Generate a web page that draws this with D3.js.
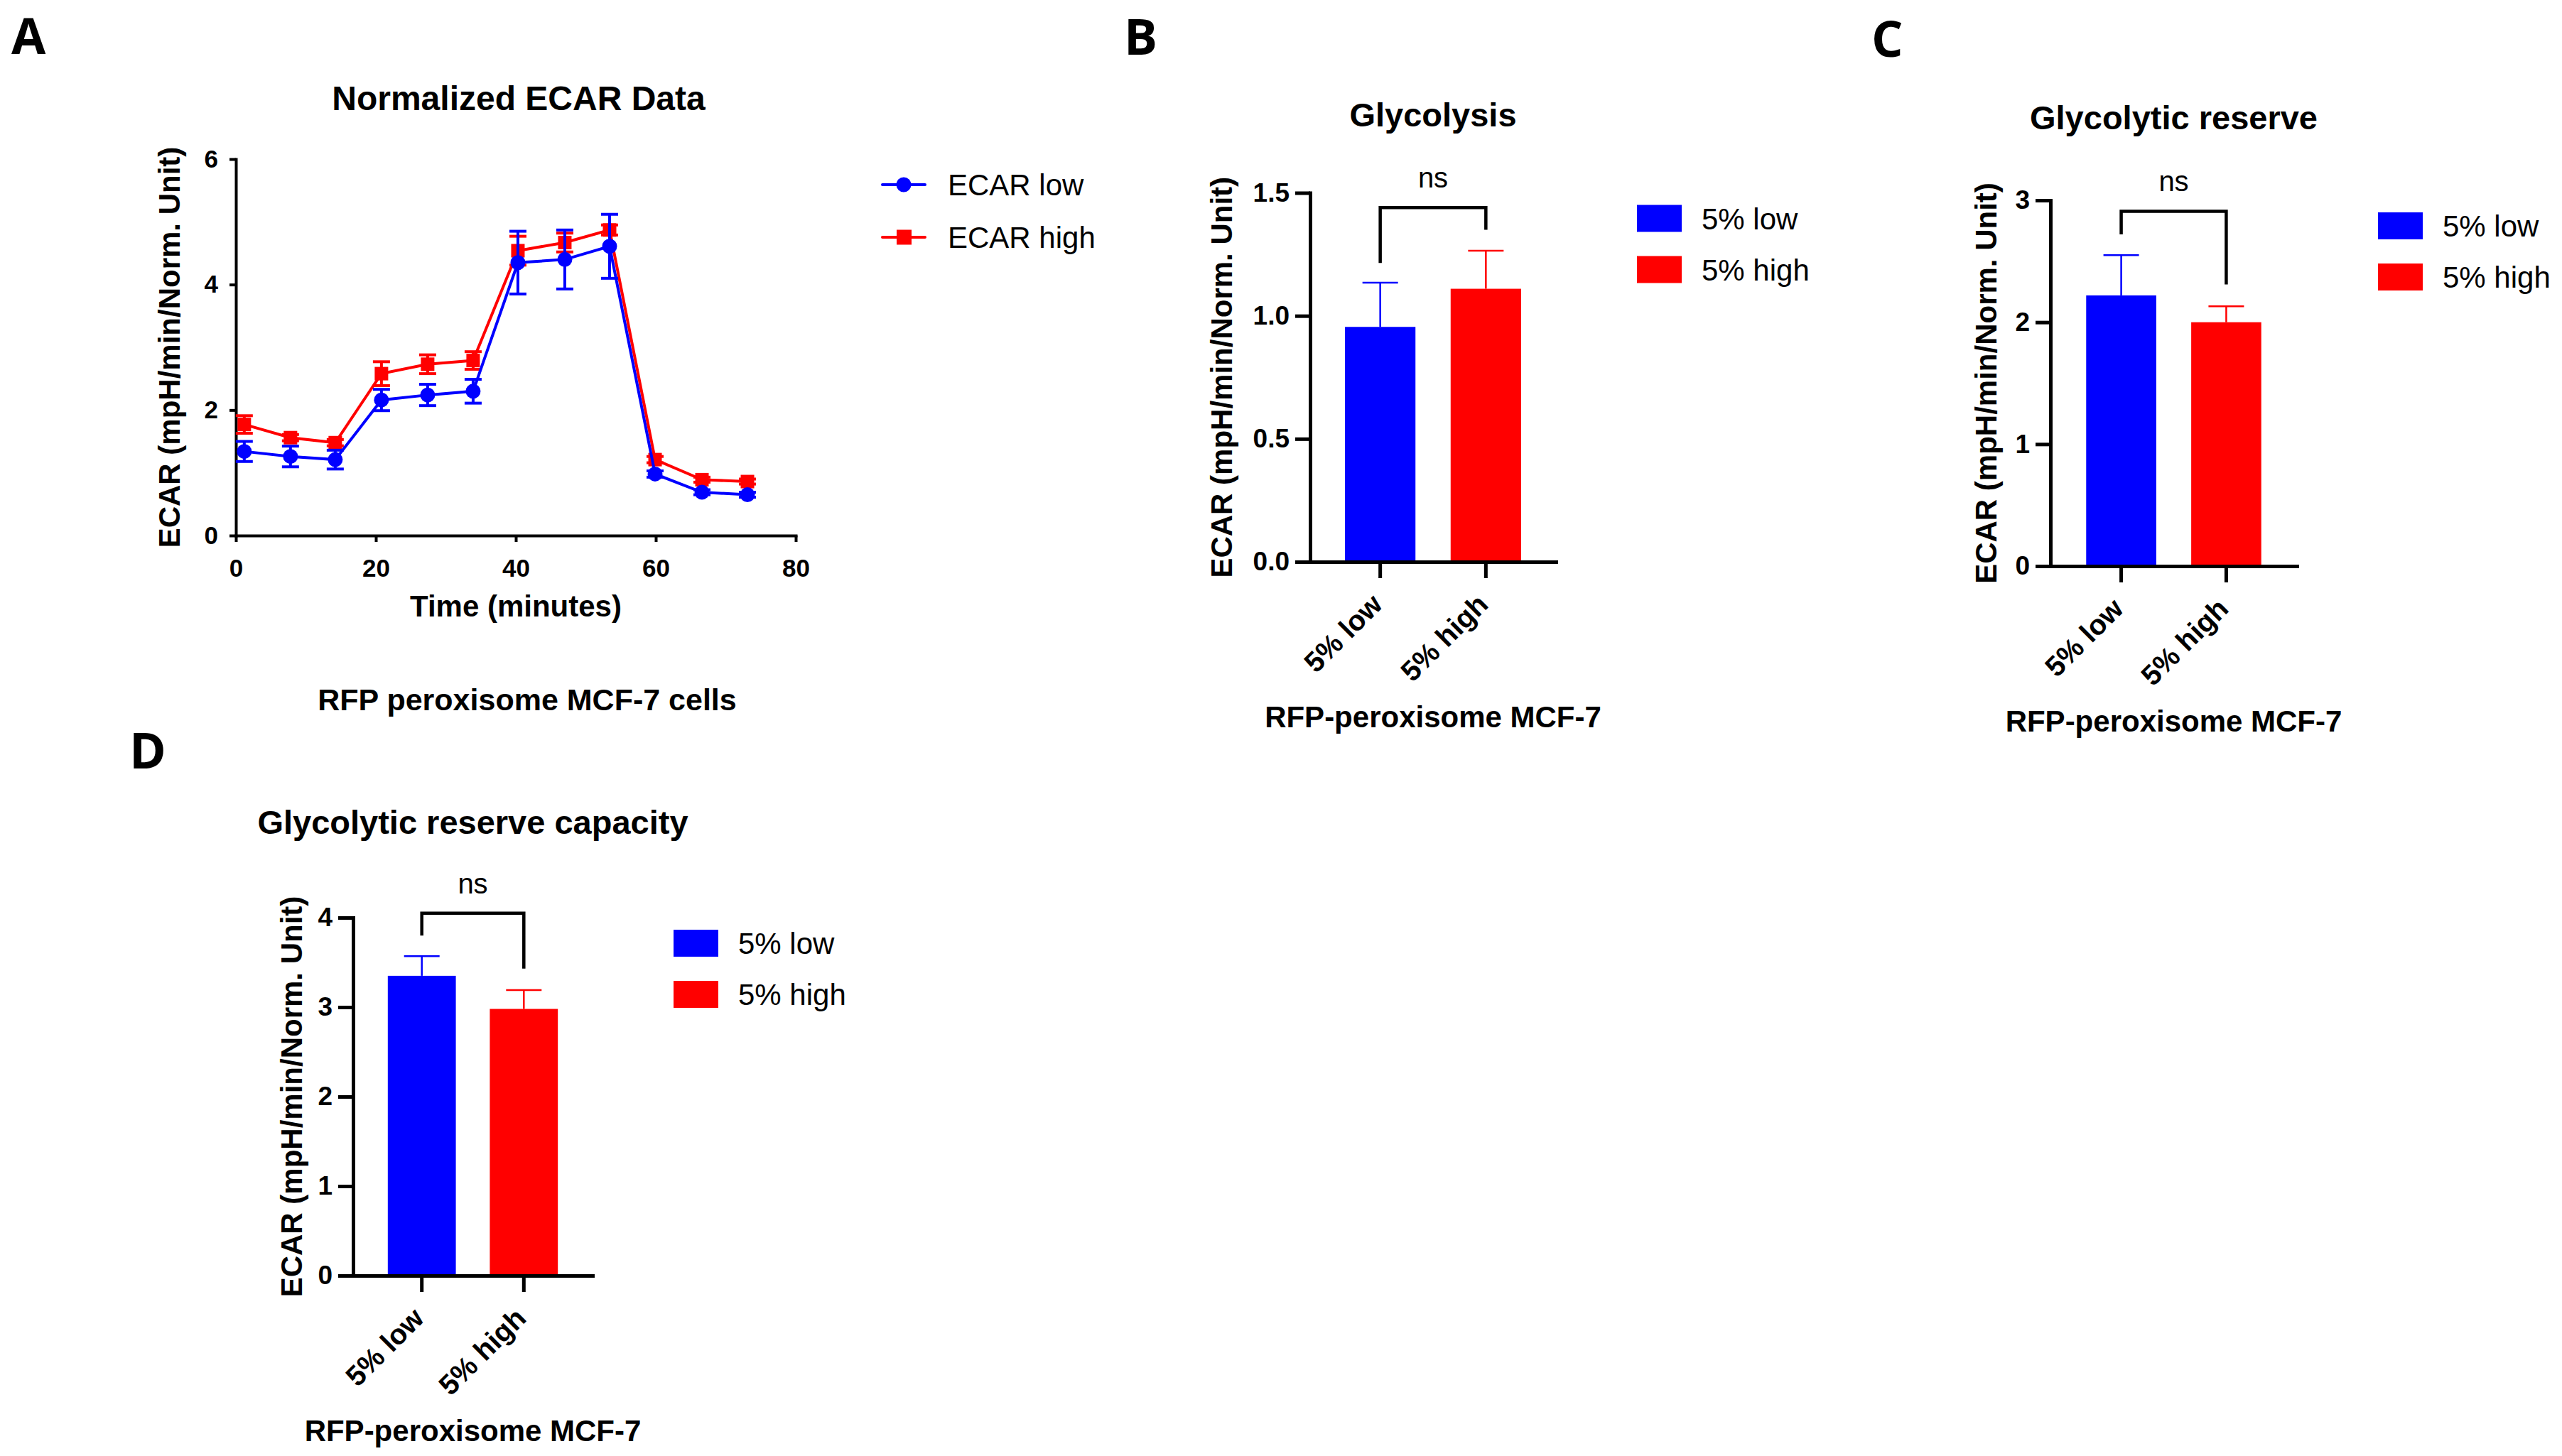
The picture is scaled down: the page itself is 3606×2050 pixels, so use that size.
<!DOCTYPE html>
<html>
<head>
<meta charset="utf-8">
<script src="https://d3js.org/d3.v7.min.js"></script>
<style>
body { margin: 0; background: #fff; }
svg { display: block; }
</style>
</head>
<body>
<script>
// ---- data ----
var timeMin = [1.2, 7.8, 14.2, 20.8, 27.4, 33.9, 40.3, 47.0, 53.4, 59.9, 66.6, 73.1];
var ecarLow = [1.34, 1.26, 1.21, 2.16, 2.24, 2.30, 4.35, 4.40, 4.61, 0.98, 0.69, 0.65];
var ecarLowSd = [0.16, 0.165, 0.15, 0.17, 0.17, 0.19, 0.50, 0.47, 0.51, 0.05, 0.04, 0.04];
var ecarHigh = [1.77, 1.56, 1.48, 2.58, 2.73, 2.79, 4.54, 4.67, 4.87, 1.21, 0.89, 0.86];
var ecarHighSd = [0.14, 0.05, 0.05, 0.19, 0.15, 0.14, 0.23, 0.15, 0.08, 0.05, 0.04, 0.04];
var seriesNames = ["ECAR low", "ECAR high"];

var groups = ["5% low", "5% high"];
var glycolysisMean = [0.955, 1.11];
var glycolysisSd = [0.18, 0.155];
var reserveMean = [2.22, 2.00];
var reserveSd = [0.33, 0.13];
var capacityMean = [3.35, 2.98];
var capacitySd = [0.22, 0.21];

// bracket levels (left leg end, bar, right leg end) in data units
var glycolysisBracket = [1.215, 1.44, 1.35];
var reserveBracket = [2.72, 2.91, 2.31];
var capacityBracket = [3.80, 4.05, 3.43];

var ticksA_x = [0, 20, 40, 60, 80];
var ticksA_y = [0, 2, 4, 6];

var blue = "#0000ff", red = "#ff0000";
var font = "'Liberation Sans', Arial, sans-serif";
var W = 3606, H = 2050;

var svg = d3.select("body").append("svg")
    .attr("width", W)
    .attr("height", H)
    .style("font-family", font);

// panel letters
var letters = [["A", 16, 76], ["B", 1582, 77], ["C", 2634, 80], ["D", 182, 1082]];
svg.selectAll("text.letter")
    .data(letters)
    .enter()
    .append("text")
    .attr("class", "letter")
    .attr("x", function(d) { return d[1]; })
    .attr("y", function(d) { return d[2]; })
    .attr("font-family", "'Open Sans', sans-serif")
    .attr("font-weight", "bold")
    .attr("font-size", 70)
    .text(function(d) { return d[0]; });

//////////// PANEL A /////////////
var ax = d3.scaleLinear().domain([0, 80]).range([332, 1120]);
var ay = d3.scaleLinear().domain([0, 6]).range([754, 224]);

var gA = svg.append("g");

function styleAxis(g, sw, fs) {
    g.attr("font-family", font).attr("font-size", fs).attr("font-weight", "bold");
    g.select(".domain").attr("stroke-width", sw).attr("stroke-linecap", "square");
    g.selectAll(".tick line").attr("stroke-width", sw);
    g.selectAll(".tick text").attr("fill", "#000");
}

gA.append("g")
    .attr("transform", "translate(0," + ay(0) + ")")
    .call(d3.axisBottom(ax).tickValues(ticksA_x).tickFormat(d3.format("d")).tickSize(9).tickPadding(24).tickSizeOuter(0))
    .call(styleAxis, 4, 35);

gA.append("g")
    .attr("transform", "translate(" + ax(0) + ",0)")
    .call(d3.axisLeft(ay).tickValues(ticksA_y).tickFormat(d3.format("d")).tickSize(9).tickPadding(16).tickSizeOuter(0))
    .call(styleAxis, 4, 35);

var seriesA = [
    { name: seriesNames[1], color: red, mean: ecarHigh, sd: ecarHighSd, shape: "square" },
    { name: seriesNames[0], color: blue, mean: ecarLow, sd: ecarLowSd, shape: "circle" }
];

var line = d3.line()
    .x(function(d) { return ax(d.t); })
    .y(function(d) { return ay(d.v); });

seriesA.forEach(function(s) {
    var pts = timeMin.map(function(t, i) { return { t: t, v: s.mean[i], e: s.sd[i] }; });
    var g = gA.append("g");
    g.append("path")
        .datum(pts)
        .attr("d", line)
        .attr("fill", "none")
        .attr("stroke", s.color)
        .attr("stroke-width", 4);

    var eb = g.selectAll("g.err")
        .data(pts)
        .enter()
        .append("g")
        .attr("stroke", s.color)
        .attr("stroke-width", 4);
    eb.append("line")
        .attr("x1", function(d) { return ax(d.t); })
        .attr("x2", function(d) { return ax(d.t); })
        .attr("y1", function(d) { return ay(d.v - d.e); })
        .attr("y2", function(d) { return ay(d.v + d.e); });
    [-1, 1].forEach(function(k) {
        eb.append("line")
            .attr("x1", function(d) { return ax(d.t) - 12; })
            .attr("x2", function(d) { return ax(d.t) + 12; })
            .attr("y1", function(d) { return ay(d.v + k * d.e); })
            .attr("y2", function(d) { return ay(d.v + k * d.e); });
    });

    if (s.shape === "circle") {
        g.selectAll("circle")
            .data(pts)
            .enter()
            .append("circle")
            .attr("cx", function(d) { return ax(d.t); })
            .attr("cy", function(d) { return ay(d.v); })
            .attr("r", 10.5)
            .attr("fill", s.color);
    } else {
        g.selectAll("rect")
            .data(pts)
            .enter()
            .append("rect")
            .attr("x", function(d) { return ax(d.t) - 9.5; })
            .attr("y", function(d) { return ay(d.v) - 9.5; })
            .attr("width", 19)
            .attr("height", 19)
            .attr("fill", s.color);
    }
});

// legend A
var legA = gA.selectAll("g.leg")
    .data([seriesA[1], seriesA[0]])
    .enter()
    .append("g")
    .attr("transform", function(d, i) { return "translate(1242," + (260 + i * 74) + ")"; });
legA.append("line")
    .attr("x1", 0).attr("x2", 60)
    .attr("stroke", function(d) { return d.color; })
    .attr("stroke-width", 4)
    .attr("stroke-linecap", "round");
legA.each(function(d) {
    var g = d3.select(this);
    if (d.shape === "circle") {
        g.append("circle").attr("cx", 30).attr("r", 10.5).attr("fill", d.color);
    } else {
        g.append("rect").attr("x", 20).attr("y", -10.5).attr("width", 21).attr("height", 21).attr("fill", d.color);
    }
});
legA.append("text")
    .attr("x", 92)
    .attr("y", 15)
    .attr("font-size", 42)
    .text(function(d) { return d.name; });

gA.append("text")
    .attr("x", 730).attr("y", 155)
    .attr("text-anchor", "middle")
    .attr("font-weight", "bold")
    .attr("font-size", 48)
    .text("Normalized ECAR Data");

gA.append("text")
    .attr("x", 726).attr("y", 868)
    .attr("text-anchor", "middle")
    .attr("font-weight", "bold")
    .attr("font-size", 42)
    .text("Time (minutes)");

gA.append("text")
    .attr("transform", "translate(253," + ((ay(0) + ay(6)) / 2) + ") rotate(-90)")
    .attr("text-anchor", "middle")
    .attr("font-weight", "bold")
    .attr("font-size", 42)
    .text("ECAR (mpH/min/Norm. Unit)");

gA.append("text")
    .attr("x", 742).attr("y", 1000)
    .attr("text-anchor", "middle")
    .attr("font-weight", "bold")
    .attr("font-size", 43)
    .text("RFP peroxisome MCF-7 cells");

//////////// BAR PANELS /////////////
function barPanel(c) {
    var g = svg.append("g");
    var x = d3.scaleBand()
        .domain(groups)
        .range([c.x0, c.x1])
        .paddingInner(0.333)
        .paddingOuter(c.outer);
    var y = d3.scaleLinear()
        .domain([0, c.yMax])
        .range([c.y0, c.yTop]);

    var data = groups.map(function(gname, i) {
        return { g: gname, m: c.mean[i], sd: c.sd[i], color: i === 0 ? blue : red };
    });

    // error bars (mean + SD)
    var eb = g.selectAll("g.eb")
        .data(data)
        .enter()
        .append("g")
        .attr("stroke", function(d) { return d.color; })
        .attr("stroke-width", 2.5);
    eb.append("line")
        .attr("x1", function(d) { return x(d.g) + x.bandwidth() / 2; })
        .attr("x2", function(d) { return x(d.g) + x.bandwidth() / 2; })
        .attr("y1", function(d) { return y(d.m); })
        .attr("y2", function(d) { return y(d.m + d.sd); });
    eb.append("line")
        .attr("x1", function(d) { return x(d.g) + x.bandwidth() / 2 - 25; })
        .attr("x2", function(d) { return x(d.g) + x.bandwidth() / 2 + 25; })
        .attr("y1", function(d) { return y(d.m + d.sd); })
        .attr("y2", function(d) { return y(d.m + d.sd); });

    g.selectAll("rect.bar")
        .data(data)
        .enter()
        .append("rect")
        .attr("class", "bar")
        .attr("x", function(d) { return x(d.g); })
        .attr("y", function(d) { return y(d.m); })
        .attr("width", x.bandwidth())
        .attr("height", function(d) { return y(0) - y(d.m); })
        .attr("fill", function(d) { return d.color; });

    // axes
    g.append("g")
        .attr("transform", "translate(" + c.x0 + ",0)")
        .call(d3.axisLeft(y).tickValues(c.ticks).tickFormat(d3.format(c.fmt)).tickSize(21).tickPadding(8).tickSizeOuter(0))
        .call(styleAxis, 5, 37);

    var xg = g.append("g")
        .attr("transform", "translate(0," + c.y0 + ")")
        .call(d3.axisBottom(x).tickSize(23).tickSizeOuter(0))
        .call(styleAxis, 5, 40);
    xg.selectAll(".tick text")
        .attr("x", 0)
        .attr("y", 0)
        .attr("dy", "0.72em")
        .attr("text-anchor", "end")
        .attr("transform", "translate(-15,42) rotate(-45)");

    // significance bracket
    var cx0 = x(groups[0]) + x.bandwidth() / 2;
    var cx1 = x(groups[1]) + x.bandwidth() / 2;
    g.append("path")
        .attr("d", "M" + cx0 + "," + y(c.bracket[0]) + "V" + y(c.bracket[1]) + "H" + cx1 + "V" + y(c.bracket[2]))
        .attr("fill", "none")
        .attr("stroke", "#000")
        .attr("stroke-width", 4.5);
    g.append("text")
        .attr("x", (cx0 + cx1) / 2)
        .attr("y", y(c.bracket[1]) - 28)
        .attr("text-anchor", "middle")
        .attr("font-size", 40)
        .text("ns");

    // legend
    var leg = g.selectAll("g.leg")
        .data(data)
        .enter()
        .append("g")
        .attr("transform", function(d, i) { return "translate(" + (c.x1 + 114) + "," + (c.yTop + 17 + i * 72) + ")"; });
    leg.append("rect")
        .attr("width", 63)
        .attr("height", 38)
        .attr("fill", function(d) { return d.color; });
    leg.append("text")
        .attr("x", 91)
        .attr("y", 34)
        .attr("font-size", 42)
        .text(function(d) { return d.g; });

    // titles
    var mid = (c.x0 + c.x1) / 2;
    g.append("text")
        .attr("x", mid).attr("y", c.titleY)
        .attr("text-anchor", "middle")
        .attr("font-weight", "bold")
        .attr("font-size", 47)
        .text(c.title);
    g.append("text")
        .attr("x", mid).attr("y", c.y0 + 233)
        .attr("text-anchor", "middle")
        .attr("font-weight", "bold")
        .attr("font-size", 42)
        .text("RFP-peroxisome MCF-7");
    g.append("text")
        .attr("transform", "translate(" + (c.x0 - c.labelOff) + "," + ((c.y0 + c.yTop) / 2) + ") rotate(-90)")
        .attr("text-anchor", "middle")
        .attr("font-weight", "bold")
        .attr("font-size", 42)
        .text("ECAR (mpH/min/Norm. Unit)");
}

barPanel({
    x0: 1844, x1: 2190, y0: 791, yTop: 271.5, yMax: 1.5, outer: 0.33,
    ticks: [0, 0.5, 1.0, 1.5], fmt: ".1f",
    mean: glycolysisMean, sd: glycolysisSd, bracket: glycolysisBracket,
    title: "Glycolysis", titleY: 178, labelOff: 110
});

barPanel({
    x0: 2886, x1: 3233, y0: 797, yTop: 282, yMax: 3, outer: 0.34,
    ticks: [0, 1, 2, 3], fmt: "d",
    mean: reserveMean, sd: reserveSd, bracket: reserveBracket,
    title: "Glycolytic reserve", titleY: 182, labelOff: 76
});

barPanel({
    x0: 497, x1: 834, y0: 1796, yTop: 1292, yMax: 4, outer: 0.34,
    ticks: [0, 1, 2, 3, 4], fmt: "d",
    mean: capacityMean, sd: capacitySd, bracket: capacityBracket,
    title: "Glycolytic reserve capacity", titleY: 1174, labelOff: 72
});
</script>
</body>
</html>
